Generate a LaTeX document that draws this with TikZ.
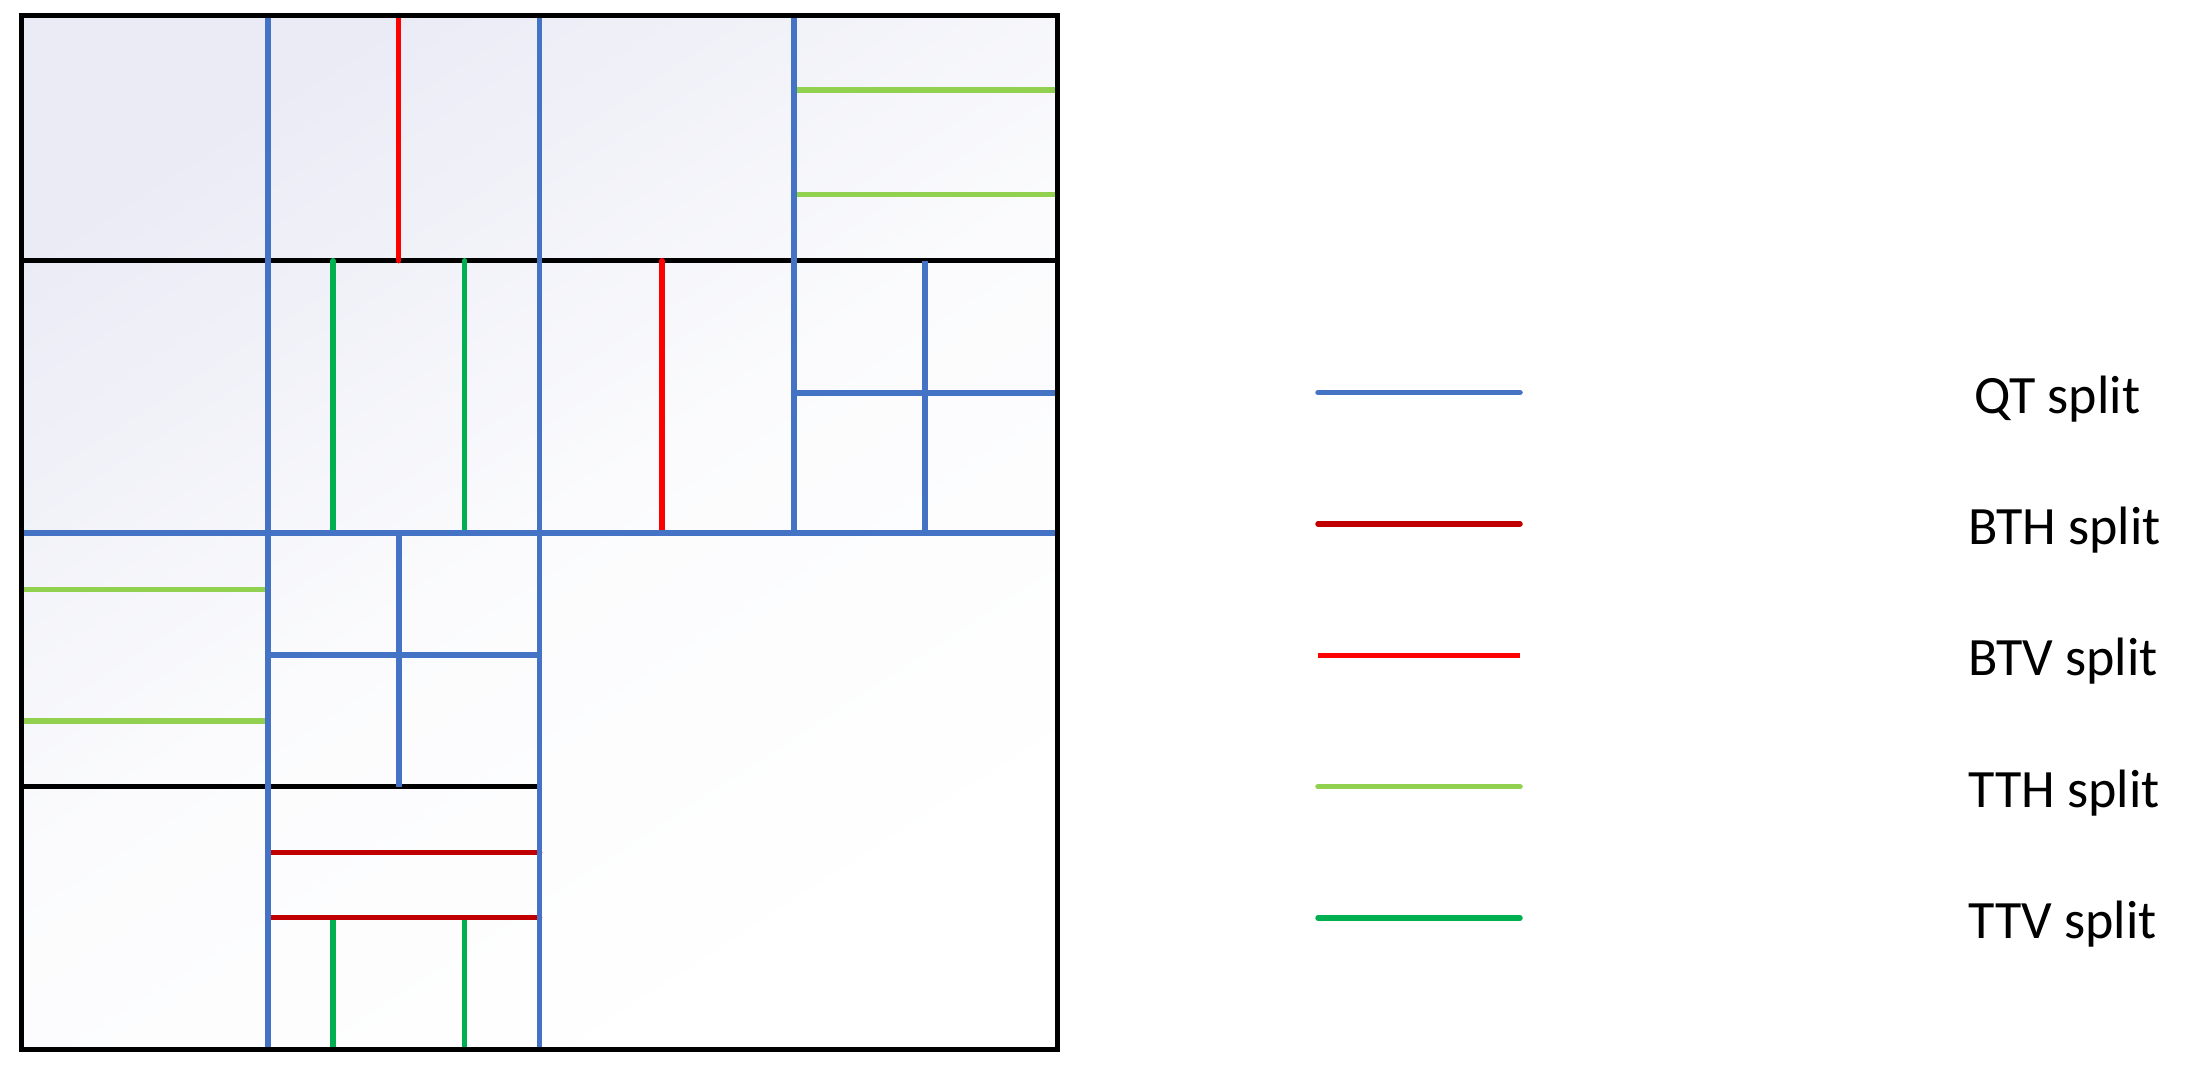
\documentclass[tikz,border=0pt]{standalone}
\usepackage{fontspec}
\setmainfont{Carlito}
\definecolor{qtc}{HTML}{4472C4}
\definecolor{bthc}{HTML}{C00000}
\definecolor{btvc}{HTML}{FF0000}
\definecolor{tthc}{HTML}{92D050}
\definecolor{ttvc}{HTML}{00B050}
\definecolor{bgtint}{HTML}{EAEBF5}
\begin{document}
\begin{tikzpicture}[x=1pt,y=-1pt,
  qtline/.style={draw=qtc,line width=5.5pt},
  bthline/.style={draw=bthc,line width=5.5pt,line cap=round},
  btvline/.style={draw=btvc,line width=5.5pt,line cap=round},
  tthline/.style={draw=tthc,line width=5.5pt,line cap=round},
  ttvline/.style={draw=ttvc,line width=5.5pt,line cap=round},
  blkline/.style={draw=black,line width=5pt},
  legline/.style={line width=5.5pt,line cap=round},
  legtext/.style={anchor=base west,inner sep=0pt,font=\fontsize{54}{60}\selectfont}]
\useasboundingbox (0,0) rectangle (2192,1076);
% background shading of the block
\shade[top color=bgtint,bottom color=white,middle color=bgtint!19,shading angle=33]
  (21.5,15.5) rectangle (1057,1049);
% black CTU-level lines
\draw[blkline] (21.5,260.7) -- (1057,260.7);
\draw[blkline] (21.5,786.6) -- (539.6,786.6);
% BTV splits
\draw[btvline] (398.7,15.5) -- (398.7,260.7);
\draw[btvline] (661.8,260.7) -- (661.8,532.8);
% TTV splits
\draw[ttvline] (332.8,260.7) -- (332.8,532.8);
\draw[ttvline] (464.7,260.7) -- (464.7,532.8);
\draw[ttvline] (332.8,917.7) -- (332.8,1049);
\draw[ttvline] (464.7,917.7) -- (464.7,1049);
% TTH splits
\draw[tthline] (793.9,90) -- (1057,90);
\draw[tthline] (793.9,194.6) -- (1057,194.6);
\draw[tthline] (21.5,589.6) -- (267.9,589.6);
\draw[tthline] (21.5,720.8) -- (267.9,720.8);
% BTH splits
\draw[bthline] (267.9,852.3) -- (539.6,852.3);
\draw[bthline] (267.9,917.7) -- (539.6,917.7);
% QT splits
\draw[qtline] (21.5,532.8) -- (1057,532.8);
\draw[qtline] (267.9,15.5) -- (267.9,1049);
\draw[qtline] (539.6,15.5) -- (539.6,1049);
\draw[qtline] (793.9,15.5) -- (793.9,532.8);
\draw[qtline] (925.2,260.7) -- (925.2,532.8);
\draw[qtline] (793.9,392.9) -- (1057,392.9);
\draw[qtline] (399.2,532.8) -- (399.2,786.6);
\draw[qtline] (267.9,655) -- (539.6,655);
% outer border
\draw[blkline] (21.5,15.5) rectangle (1057,1049);
% legend
\coordinate (qa) at (1318,392.5);  \coordinate (qb) at (1520,392.5);
\coordinate (ba) at (1318,523.8);  \coordinate (bb) at (1520,523.8);
\coordinate (va) at (1318,655.4);  \coordinate (vb) at (1520,655.4);
\coordinate (ha) at (1318,786.7);  \coordinate (hb) at (1520,786.7);
\coordinate (ta) at (1318,918);    \coordinate (tb) at (1520,918);
\draw[legline,draw=qtc] (qa) -- (qb);
\draw[legline,draw=bthc] (ba) -- (bb);
\draw[legline,draw=btvc,line cap=butt] (va) -- (vb);
\draw[legline,draw=tthc] (ha) -- (hb);
\draw[legline,draw=ttvc] (ta) -- (tb);
\node[legtext] (lq) at (1974,413.6) {QT split};
\node[legtext] (lbh) at (1968,544.3) {BTH split};
\node[legtext] (lbv) at (1968,675.9) {BTV split};
\node[legtext] (lth) at (1968,807.2) {TTH split};
\node[legtext] (ltv) at (1968,938.5) {TTV split};
\end{tikzpicture}
\end{document}
